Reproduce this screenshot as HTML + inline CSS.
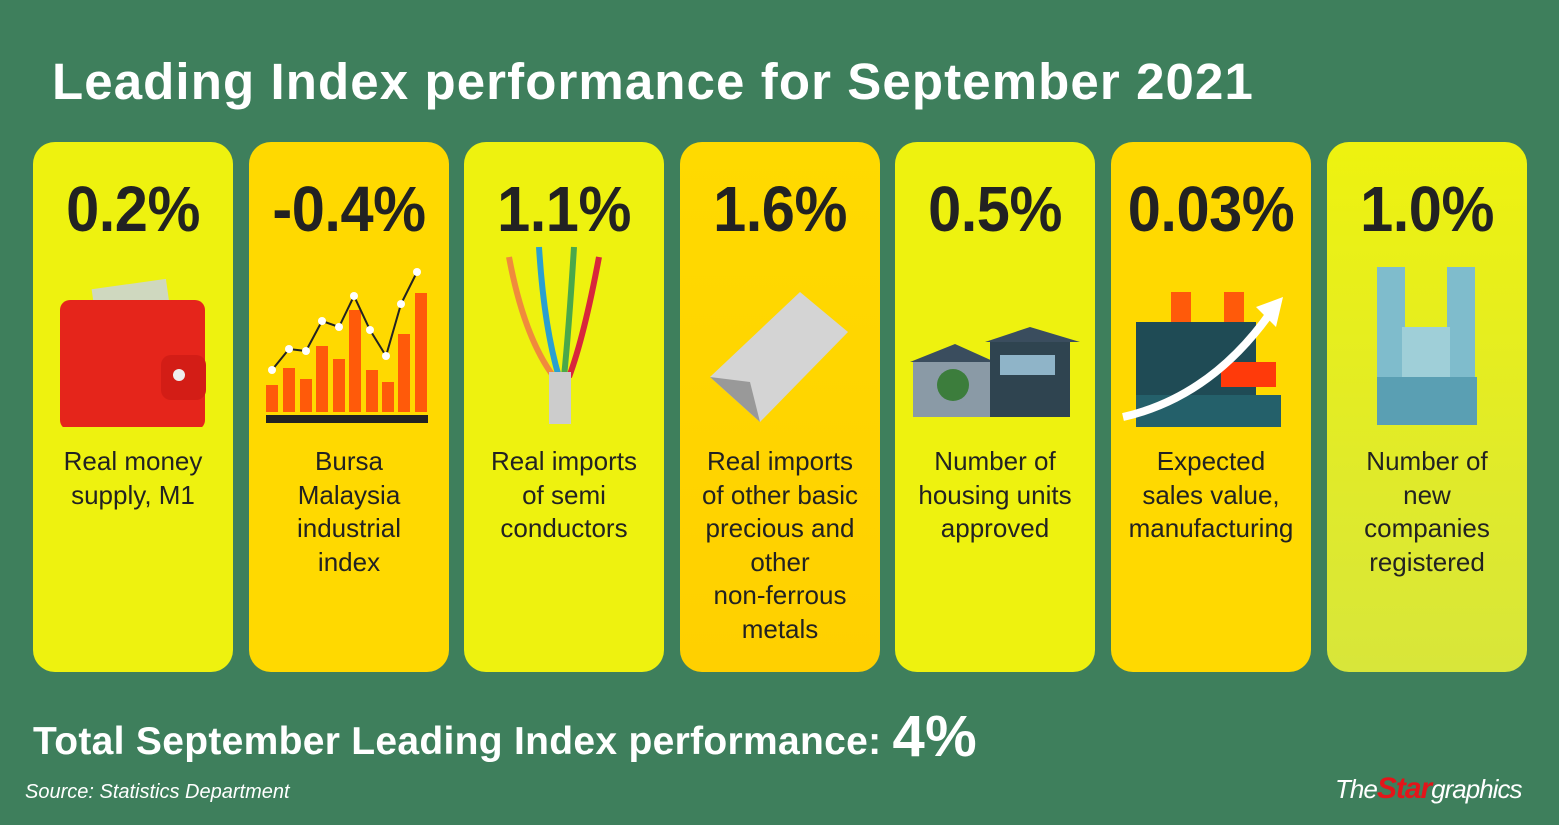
<!DOCTYPE html>
<html><head><meta charset="utf-8"><style>
*{margin:0;padding:0;box-sizing:border-box}
body{width:1559px;height:825px;background:#3e7f5c;position:relative;overflow:hidden;font-family:"Liberation Sans",sans-serif}
.t{position:absolute;left:52px;top:52px;color:#fff;font-weight:bold;font-size:51px;letter-spacing:1.1px}
.c{position:absolute;top:142px;width:200px;height:530px;border-radius:22px;text-align:center}
.y{background:#eef20f}.g{background:#ffd900}
.p{position:absolute;top:30px;left:0;width:100%;font-weight:bold;font-size:64px;color:#222;transform:scaleX(0.93);letter-spacing:-0.5px;white-space:nowrap}
.l{position:absolute;top:303px;left:0;width:100%;font-size:26px;line-height:33.5px;color:#222}
.i{position:absolute;left:0;top:95px;width:200px;height:190px}
.tot{position:absolute;left:33px;top:703px;color:#fff;font-weight:bold;font-size:39px;letter-spacing:0.3px}
.tot b{font-size:58px;vertical-align:-2px}
.src{position:absolute;left:25px;top:781px;color:#fff;font-style:italic;font-size:20px}
.logo{position:absolute;left:1335px;top:772px;color:#fff;font-style:italic;font-size:26px;letter-spacing:-1px}
.logo span{color:#e3151a;font-weight:bold;font-size:30px}
</style></head><body>
<div class="t">Leading Index performance for September 2021</div>

<div class="c y" style="left:33px"><div class="p">0.2%</div>
<svg class="i" viewBox="0 0 200 190"><rect x="60" y="48" width="75" height="35" fill="#cfd8bf" transform="rotate(-8 90 60)"/><rect x="27" y="73" width="145" height="130" rx="10" fill="#e5251b" transform="translate(0,-10)"/><rect x="128" y="118" width="45" height="45" rx="10" fill="#d31d16"/><circle cx="146" cy="138" r="6" fill="#eee"/></svg>
<div class="l">Real money<br>supply, M1</div></div>

<div class="c g" style="left:249px"><div class="p">-0.4%</div>
<svg class="i" viewBox="0 0 200 190"><g fill="#ff5a0a"><rect x="17" y="148" width="12" height="27"/><rect x="34" y="131" width="12" height="44"/><rect x="51" y="142" width="12" height="33"/><rect x="67" y="109" width="12" height="66"/><rect x="84" y="122" width="12" height="53"/><rect x="100" y="73" width="12" height="102"/><rect x="117" y="133" width="12" height="42"/><rect x="133" y="145" width="12" height="30"/><rect x="149" y="97" width="12" height="78"/><rect x="166" y="56" width="12" height="119"/></g><rect x="17" y="178" width="162" height="8" fill="#222"/><polyline points="23,133 40,112 57,114 73,84 90,90 105,59 121,93 137,119 152,67 168,35" fill="none" stroke="#222" stroke-width="2"/><g fill="#fff"><circle cx="23" cy="133" r="4"/><circle cx="40" cy="112" r="4"/><circle cx="57" cy="114" r="4"/><circle cx="73" cy="84" r="4"/><circle cx="90" cy="90" r="4"/><circle cx="105" cy="59" r="4"/><circle cx="121" cy="93" r="4"/><circle cx="137" cy="119" r="4"/><circle cx="152" cy="67" r="4"/><circle cx="168" cy="35" r="4"/></g></svg>
<div class="l">Bursa<br>Malaysia<br>industrial<br>index</div></div>

<div class="c y" style="left:464px"><div class="p">1.1%</div>
<svg class="i" viewBox="0 0 200 190"><g fill="none" stroke-width="6"><path d="M45 20 Q60 100 90 140" stroke="#f08a3c"/><path d="M75 10 Q80 90 95 140" stroke="#2aa0d0"/><path d="M110 10 Q105 90 100 140" stroke="#4aa84a"/><path d="M135 20 Q120 100 105 140" stroke="#d8263c"/></g><rect x="85" y="135" width="22" height="52" fill="#ccc"/></svg>
<div class="l">Real imports<br>of semi<br>conductors</div></div>

<div class="c g" style="left:680px;background:linear-gradient(#ffda00,#ffd000)"><div class="p">1.6%</div>
<svg class="i" viewBox="0 0 200 190"><polygon points="30,140 120,55 168,95 80,185" fill="#d4d4d4"/><polygon points="30,140 70,145 80,185" fill="#999"/></svg>
<div class="l">Real imports<br>of other basic<br>precious and<br>other<br>non-ferrous<br>metals</div></div>

<div class="c y" style="left:895px"><div class="p">0.5%</div>
<svg class="i" viewBox="0 0 200 190"><polygon points="15,125 60,107 100,125" fill="#3a4d5e"/><rect x="18" y="125" width="80" height="55" fill="#8a9aa6"/><polygon points="90,105 135,90 185,105" fill="#3a4d5e"/><rect x="95" y="105" width="80" height="75" fill="#2f4450"/><rect x="105" y="118" width="55" height="20" fill="#8fb4c8"/><circle cx="58" cy="148" r="16" fill="#3c7d3c"/></svg>
<div class="l">Number of<br>housing units<br>approved</div></div>

<div class="c g" style="left:1111px"><div class="p">0.03%</div>
<svg class="i" viewBox="0 0 200 190"><rect x="60" y="55" width="20" height="30" fill="#ff5a0a"/><rect x="113" y="55" width="20" height="30" fill="#ff5a0a"/><rect x="25" y="85" width="120" height="105" fill="#1f4b55"/><rect x="110" y="125" width="55" height="25" fill="#ff3a0a"/><rect x="25" y="158" width="145" height="32" fill="#24606a"/><path d="M12 180 Q100 160 160 75" fill="none" stroke="#fff" stroke-width="8"/><polygon points="145,70 172,60 165,90" fill="#fff"/></svg>
<div class="l">Expected<br>sales value,<br>manufacturing</div></div>

<div class="c" style="left:1327px;background:linear-gradient(#eef20f,#d8e63a)"><div class="p">1.0%</div>
<svg class="i" viewBox="0 0 200 190"><rect x="50" y="30" width="28" height="155" fill="#7fbccc"/><rect x="120" y="30" width="28" height="155" fill="#7fbccc"/><rect x="75" y="90" width="48" height="95" fill="#9fcfd8"/><rect x="50" y="140" width="100" height="48" fill="#5a9fb3"/></svg>
<div class="l">Number of<br>new<br>companies<br>registered</div></div>

<div class="tot">Total September Leading Index performance: <b>4%</b></div>
<div class="src">Source: Statistics Department</div>
<div class="logo">The<span>Star</span>graphics</div>
</body></html>
